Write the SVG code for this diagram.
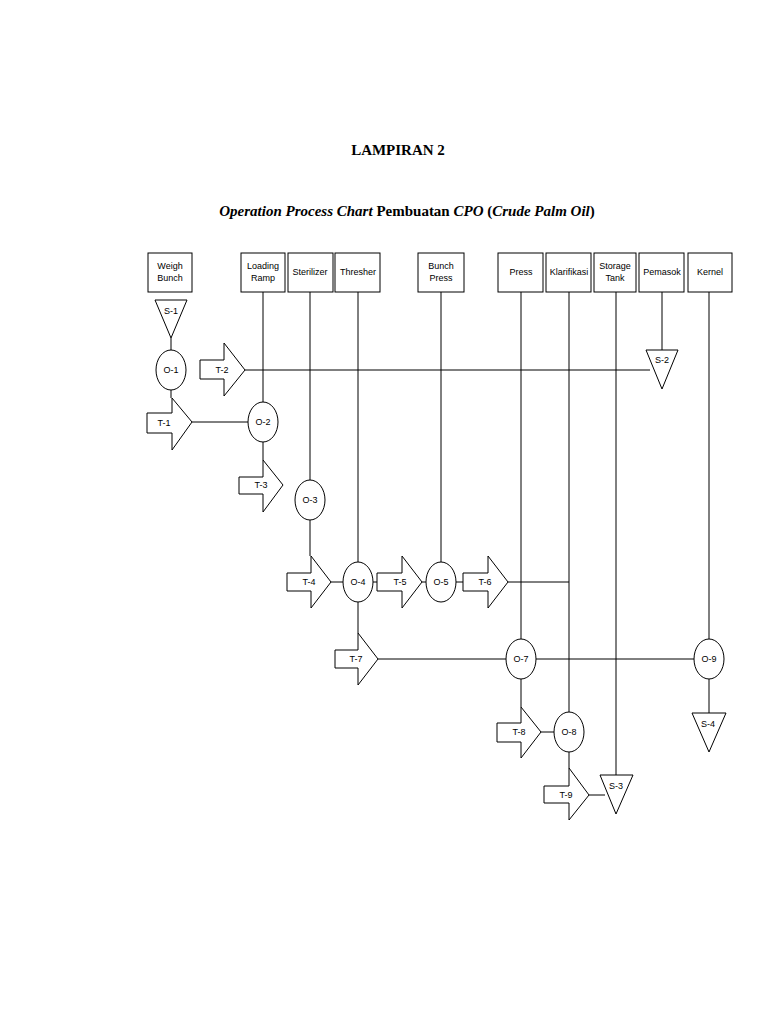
<svg xmlns="http://www.w3.org/2000/svg" width="768" height="1024" viewBox="0 0 768 1024">
<style>
.b{fill:#fff;stroke:#000;stroke-width:1}
.s{fill:#fff;stroke:#000;stroke-width:1}
.l{fill:none;stroke:#000;stroke-width:1}
.t{font-family:"Liberation Sans",Arial,sans-serif;font-size:9px;text-anchor:middle;fill:#000}
.h{font-family:"Liberation Serif","Times New Roman",serif;font-weight:bold;fill:#000}
</style>
<rect width="768" height="1024" fill="#fff"/>
<text class="h" x="398" y="155" font-size="15" text-anchor="middle">LAMPIRAN 2</text>
<text class="h" x="407" y="216" font-size="15" text-anchor="middle"><tspan font-style="italic">Operation Process Chart</tspan> Pembuatan <tspan font-style="italic">CPO</tspan> (<tspan font-style="italic">Crude Palm Oil</tspan>)</text>
<g id="connectors">
<path class="l" d="M263 292V402M263 442V460M310 292V480M310 520V556M358 292V562M358 602V633M441 292V562M521 292V639M521 679V707M569 292V712M569 752V768M616 292V775M662 292V350M709 292V639M709 679V713M171 338V350M171 390V398M245 370H650M192 422H248M508 582H569M378 659H506M536 659H694M541 732H554M589 795H605M331 582H343M373 582H377M422 582H426M456 582H463"/>
</g>
<g id="box-weigh"><rect class="b" x="148" y="253" width="44" height="39"/><text class="t" x="170" y="269">Weigh</text><text class="t" x="170" y="281">Bunch</text></g>
<g id="box-loading"><rect class="b" x="241" y="253" width="44" height="39"/><text class="t" x="263" y="269">Loading</text><text class="t" x="263" y="281">Ramp</text></g>
<g id="box-sterilizer"><rect class="b" x="288" y="253" width="45" height="39"/><text class="t" x="310" y="275">Sterilizer</text></g>
<g id="box-thresher"><rect class="b" x="335" y="253" width="45" height="39"/><text class="t" x="358" y="275">Thresher</text></g>
<g id="box-bunchpress"><rect class="b" x="418" y="253" width="46" height="39"/><text class="t" x="441" y="269">Bunch</text><text class="t" x="441" y="281">Press</text></g>
<g id="box-press"><rect class="b" x="498" y="253" width="45" height="39"/><text class="t" x="521" y="275">Press</text></g>
<g id="box-klarifikasi"><rect class="b" x="546" y="253" width="45" height="39"/><text class="t" x="569" y="275">Klarifikasi</text></g>
<g id="box-storage"><rect class="b" x="594" y="253" width="42" height="39"/><text class="t" x="615" y="269">Storage</text><text class="t" x="615" y="281">Tank</text></g>
<g id="box-pemasok"><rect class="b" x="639" y="253" width="45" height="39"/><text class="t" x="662" y="275">Pemasok</text></g>
<g id="box-kernel"><rect class="b" x="688" y="253" width="44" height="39"/><text class="t" x="710" y="275">Kernel</text></g>
<g id="S-1"><polygon class="s" points="155,300 187,300 171,338"/><text class="t" x="171" y="314">S-1</text></g>
<g id="S-2"><polygon class="s" points="646,350 678,350 662,389"/><text class="t" x="662" y="363">S-2</text></g>
<g id="S-3"><polygon class="s" points="600,775 633,775 616,814"/><text class="t" x="616" y="789">S-3</text></g>
<g id="S-4"><polygon class="s" points="692,713 726,713 709,752"/><text class="t" x="708" y="727">S-4</text></g>
<g id="O-1"><ellipse class="s" cx="171" cy="370" rx="15" ry="20"/><text class="t" x="171" y="373">O-1</text></g>
<g id="O-2"><ellipse class="s" cx="263" cy="422" rx="15" ry="20"/><text class="t" x="263" y="425">O-2</text></g>
<g id="O-3"><ellipse class="s" cx="310" cy="500" rx="15" ry="20"/><text class="t" x="310" y="503">O-3</text></g>
<g id="O-4"><ellipse class="s" cx="358" cy="582" rx="15" ry="20"/><text class="t" x="358" y="585">O-4</text></g>
<g id="O-5"><ellipse class="s" cx="441" cy="582" rx="15" ry="20"/><text class="t" x="441" y="585">O-5</text></g>
<g id="O-7"><ellipse class="s" cx="521" cy="659" rx="15" ry="20"/><text class="t" x="521" y="662">O-7</text></g>
<g id="O-8"><ellipse class="s" cx="569" cy="732" rx="15" ry="20"/><text class="t" x="569" y="735">O-8</text></g>
<g id="O-9"><ellipse class="s" cx="709" cy="659" rx="15" ry="20"/><text class="t" x="709" y="662">O-9</text></g>
<g id="T-1"><polygon class="s" points="147,413 172,413 172,398 192,422 172,450 172,433 147,433"/><text class="t" x="164" y="426">T-1</text></g>
<g id="T-2"><polygon class="s" points="200,360 224,360 224,343 245,370 224,396 224,379 200,379"/><text class="t" x="222" y="373">T-2</text></g>
<g id="T-3"><polygon class="s" points="239,477 263,477 263,460 283,485 263,512 263,494 239,494"/><text class="t" x="261" y="488">T-3</text></g>
<g id="T-4"><polygon class="s" points="287,573 311,573 311,556 331,582 311,608 311,591 287,591"/><text class="t" x="309" y="585">T-4</text></g>
<g id="T-5"><polygon class="s" points="377,573 402,573 402,556 422,582 402,608 402,591 377,591"/><text class="t" x="400" y="585">T-5</text></g>
<g id="T-6"><polygon class="s" points="463,573 488,573 488,556 508,582 488,608 488,591 463,591"/><text class="t" x="485" y="585">T-6</text></g>
<g id="T-7"><polygon class="s" points="335,650 358,650 358,633 378,659 358,685 358,668 335,668"/><text class="t" x="356" y="662">T-7</text></g>
<g id="T-8"><polygon class="s" points="497,723 521,723 521,707 541,732 521,758 521,742 497,742"/><text class="t" x="519" y="735">T-8</text></g>
<g id="T-9"><polygon class="s" points="544,786 569,786 569,768 589,795 569,820 569,803 544,803"/><text class="t" x="566" y="798">T-9</text></g>
</svg>
